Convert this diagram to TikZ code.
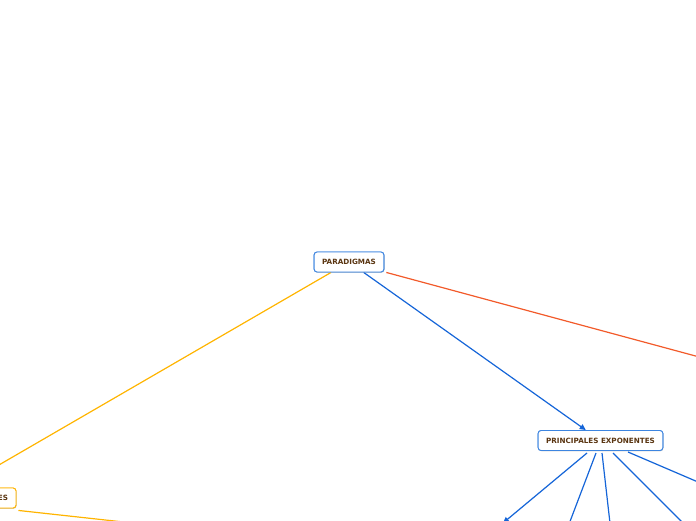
\documentclass[tikz,border=0pt]{standalone}
\usepackage{fontspec}
\setmainfont{DejaVu Sans}
\usetikzlibrary{arrows.meta,shadows}
\definecolor{nodeblue}{HTML}{3D85E0}
\definecolor{linkblue}{HTML}{1565D8}
\definecolor{txtbrown}{HTML}{5A3511}
\definecolor{ylw}{HTML}{FFB400}
\definecolor{redor}{HTML}{F25A2A}
\tikzset{
  topic/.style={draw=nodeblue, line width=0.9pt, rounded corners=3pt, fill=white,
    font=\fontsize{7.2}{8}\selectfont\bfseries, text=txtbrown,
    inner xsep=8pt, minimum height=20pt,
    drop shadow={opacity=0.18, shadow xshift=0.6pt, shadow yshift=-0.8pt}},
  ytopic/.style={topic, draw=ylw},
  blink/.style={draw=linkblue, line width=1.2pt, -{Triangle[length=6pt,width=5.5pt]}},
  bline/.style={draw=linkblue, line width=1.2pt},
  yline/.style={draw=ylw, line width=1.2pt},
  rline/.style={draw=redor, line width=1.2pt},
}
\begin{document}
\begin{tikzpicture}[x=1pt,y=-1pt]
\useasboundingbox (0,0) rectangle (696,520);
\clip (0,0) rectangle (696,520);
\node[topic] (par) at (349,262) {PARADIGMAS};
\node[topic] (pe) at (600.5,440.5) {PRINCIPALES EXPONENTES};
\node[ytopic, text width=132pt, align=right, inner xsep=8pt] (left) at (-58,498) {ES};
\coordinate (ldown) at (160,526);
\coordinate (rred) at (740,368);
\coordinate (e1) at (503,523);
\coordinate (e2) at (566,532);
\coordinate (e3) at (611,532);
\coordinate (e4) at (692,532);
\coordinate (e5) at (740,500);
% connectors
\draw[yline] (par) -- (left);
\draw[yline] (left.south east) ++(2,2) -- (ldown);
\draw[rline] (par.south east) ++(2,0) -- (rred);
\draw[blink] (par) -- (pe);
\draw[blink] (587,453) -- (e1);
\draw[bline] (596,453) -- (e2);
\draw[bline] (602,453) -- (e3);
\draw[bline] (613,453) -- (e4);
\draw[bline] (628,452) -- (e5);
\node[topic] at (par) {PARADIGMAS};
\node[topic] at (pe) {PRINCIPALES EXPONENTES};
\node[ytopic, text width=132pt, align=right, inner xsep=8pt] at (left) {ES};
\end{tikzpicture}
\end{document}
